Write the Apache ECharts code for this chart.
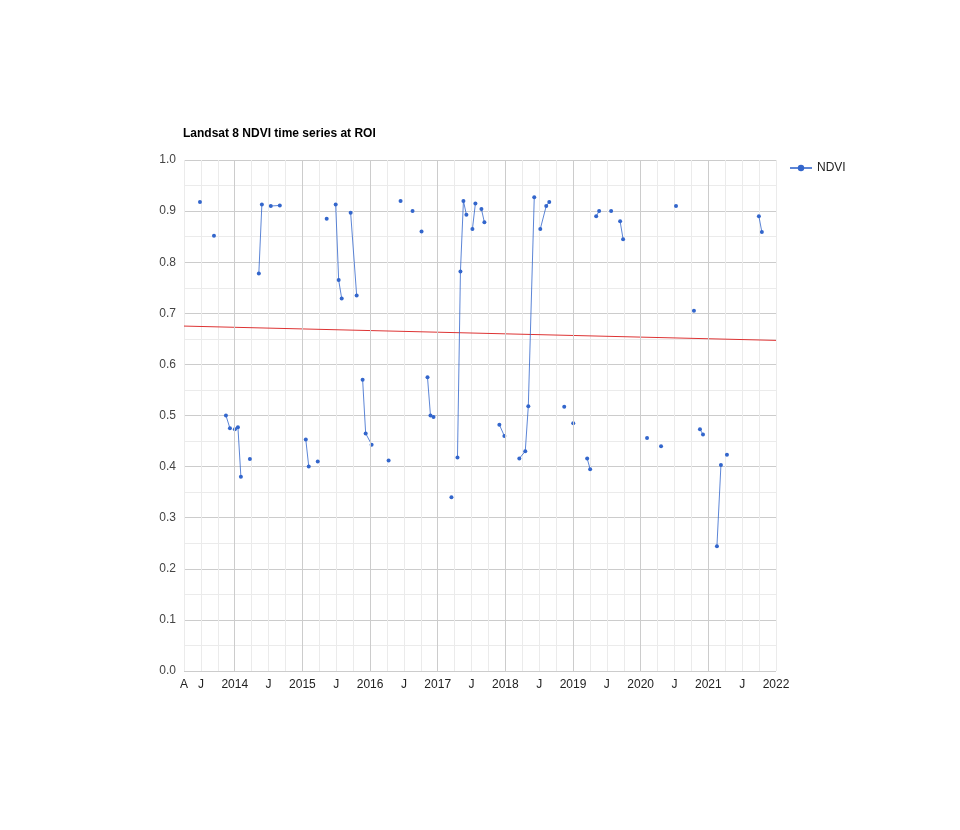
<!DOCTYPE html>
<html><head><meta charset="utf-8">
<script src="https://cdn.jsdelivr.net/npm/echarts@6/dist/echarts.min.js"></script>
<style>html,body{margin:0;background:#fff}#c{width:960px;height:830px}</style>
</head><body><div id="c"></div>
<script>
// decimal years; null = gap between connected runs
const dates = [2013.471,null,2013.678,null,2013.855,2013.914,null,2013.987,2014.032,2014.076,null,2014.209,null,
 2014.341,2014.386,null,2014.518,2014.651,null,2015.035,2015.079,null,2015.212,null,2015.344,null,
 2015.477,2015.521,2015.566,null,2015.698,2015.787,null,2015.875,2015.920,2016.008,null,2016.259,null,
 2016.436,null,2016.613,null,2016.746,null,2016.834,2016.878,2016.923,null,2017.188,null,
 2017.277,2017.321,2017.365,2017.409,null,2017.498,2017.542,null,2017.631,2017.675,null,2017.896,2017.970,null,
 2018.191,2018.279,2018.324,2018.412,null,2018.501,2018.589,2018.634,null,2018.855,null,2018.988,null,
 2019.194,2019.238,null,2019.327,2019.371,null,2019.548,null,2019.681,2019.725,null,2020.079,null,2020.286,null,
 2020.507,null,2020.772,null,2020.861,2020.906,null,2021.112,2021.171,null,2021.260,null,2021.732,2021.776];
const ndvi = [0.918,null,0.852,null,0.50,0.475,null,0.473,0.477,0.38,null,0.415,null,
 0.778,0.913,null,0.91,0.911,null,0.453,0.40,null,0.41,null,0.885,null,
 0.913,0.765,0.729,null,0.897,0.735,null,0.57,0.465,0.443,null,0.412,null,
 0.92,null,0.90,null,0.86,null,0.575,0.50,0.497,null,0.34,null,
 0.418,0.782,0.92,0.893,null,0.865,0.915,null,0.904,0.878,null,0.482,0.46,null,
 0.416,0.43,0.518,0.927,null,0.865,0.91,0.918,null,0.517,null,0.485,null,
 0.416,0.395,null,0.89,0.90,null,0.90,null,0.88,0.845,null,0.456,null,0.44,null,
 0.91,null,0.705,null,0.473,0.463,null,0.244,0.403,null,0.423,null,0.89,0.859];
const trendX = [2013.25, 2022];
const trendY = [0.675, 0.647];
const yearTicks = [2014,2015,2016,2017,2018,2019,2020,2021];

const data = dates.map((d,i)=> d===null ? '-' : [d + 0.015, ndvi[i]]);
const chart = echarts.init(document.getElementById('c'));
const F = 'Liberation Sans, Arial, sans-serif';
chart.setOption({
  animation:false,
  title:{text:'Landsat 8 NDVI time series at ROI',left:178,top:123,textStyle:{fontFamily:F,fontSize:12,fontWeight:'bold',color:'#000'}},
  legend:{data:['NDVI'],left:784,top:157,itemWidth:22,itemHeight:8,itemGap:4,textStyle:{fontFamily:F,fontSize:12,color:'#222'}},
  grid:{left:184,right:184,top:160,bottom:159},
  xAxis:{type:'value',min:2013.25,max:2022,interval:0.25,
    axisLine:{show:false},axisTick:{show:false},
    splitLine:{lineStyle:{color:'#ebebeb'}},
    axisLabel:{fontFamily:F,fontSize:12,color:'#222',margin:8,showMaxLabel:true,
      formatter:v=>{const y=Math.floor(v+1e-6),f=Math.round((v-y)*100)/100;
        if(f===0) return String(y);
        if(v<2013.3) return 'A';
        if(f===0.5) return 'J'; return '';}}},
  yAxis:{type:'value',min:0,max:1,interval:0.1,
    axisLine:{show:false},axisTick:{show:false},
    axisLabel:{fontFamily:F,fontSize:12,color:'#444',formatter:v=>v.toFixed(1)},
    splitLine:{lineStyle:{color:'#cccccc'}},
    minorTick:{show:false,splitNumber:2},minorSplitLine:{show:true,lineStyle:{color:'#ebebeb'}}},
  series:[
    {name:'NDVI',type:'line',data:data,connectNulls:false,symbol:'circle',symbolSize:4,showSymbol:true,
     itemStyle:{color:'#3366cc'},lineStyle:{width:1,color:'#3366cc',opacity:0.8},z:3,
     markLine:{silent:true,symbol:'none',label:{show:false},lineStyle:{color:'#cccccc',type:'solid',width:1},
       data:yearTicks.map(y=>({xAxis:y}))}},
    {name:'trend',type:'line',data:trendX.map((x,i)=>[x,trendY[i]]),symbol:'none',
     lineStyle:{width:1,color:'#dd3333'},z:2}
  ]
});
</script></body></html>
